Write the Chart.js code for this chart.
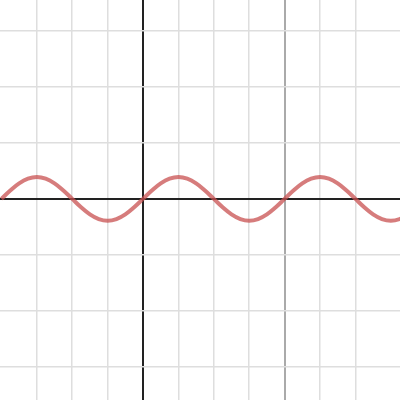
<!DOCTYPE html>
<html><head><style>html,body{margin:0;padding:0;background:#fff}#w{width:400px;height:400px}</style>
<script src="https://cdn.jsdelivr.net/npm/chart.js@4"></script></head>
<body><div id="w"><canvas id="c"></canvas></div>
<script>
const xValues = [-4,-3.75,-3.5,-3.25,-3,-2.75,-2.5,-2.25,-2,-1.75,-1.5,-1.25,-1,-0.75,-0.5,-0.25,0,0.25,0.5,0.75,1,1.25,1.5,1.75,2,2.25,2.5,2.75,3,3.25,3.5,3.75,4,4.25,4.5,4.75,5,5.25,5.5,5.75,6,6.25,6.5,6.75,7,7.25,7.5];
const yValues = [0,0.149,0.276,0.36,0.39,0.36,0.276,0.149,0,-0.149,-0.276,-0.36,-0.39,-0.36,-0.276,-0.149,
0,0.149,0.276,0.36,0.39,0.36,0.276,0.149,0,-0.149,-0.276,-0.36,-0.39,-0.36,-0.276,-0.149,
0,0.149,0.276,0.36,0.39,0.36,0.276,0.149,0,-0.149,-0.276,-0.36,-0.39,-0.36,-0.276];
const pts = xValues.map((x,i)=>({x, y:yValues[i]}));
function gc(major){return ctx=>{const v=ctx.tick.value;if(Math.abs(v-Math.round(v))>1e-6)return 'rgba(0,0,0,0)';if(Math.round(v)===0)return '#222';if(major&&Math.abs(Math.round(v))===4)return '#aaa';return '#dedede';};}
function gw(ctx){const v=ctx.tick.value;return Math.abs(v)<1e-6?2:(Math.abs(Math.abs(v)-4)<1e-6?2:1.5);}
new Chart(document.getElementById('c'),{type:'line',
data:{datasets:[{data:pts,borderColor:'rgba(200,80,80,0.75)',borderWidth:4,pointRadius:0,tension:0.4,fill:false}]},
options:{responsive:true,maintainAspectRatio:false,animation:false,layout:{padding:0},
plugins:{legend:{display:false},tooltip:{enabled:false}},
scales:{x:{type:'linear',min:-4.04,max:7.26,border:{display:false},ticks:{display:false,stepSize:1},grid:{color:gc(true),lineWidth:gw,drawTicks:false}},
y:{type:'linear',min:-3.59,max:3.55,border:{display:false},ticks:{display:false,stepSize:1},grid:{color:gc(false),lineWidth:gw,drawTicks:false}}}}});
</script></body></html>
